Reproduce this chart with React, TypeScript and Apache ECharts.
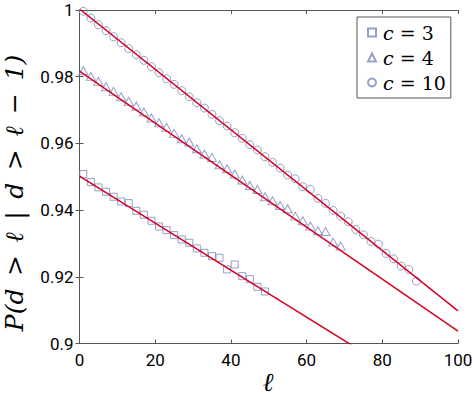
import React, { useEffect, useRef } from "react";
import * as echarts from "echarts";

// x positions (ℓ) for each series
const xC3 = [1, 3, 5, 7, 9, 11, 13, 15, 17, 19, 21, 23, 25, 27, 29, 31, 33, 35, 37, 39, 41, 43, 45, 47, 49];
const yC3 = [0.9508, 0.9484, 0.9468, 0.9455, 0.944, 0.9426, 0.9421, 0.9398, 0.9386, 0.9368, 0.9351, 0.934, 0.9325, 0.9312, 0.9302, 0.9285, 0.9272, 0.9262, 0.9257, 0.9222, 0.9237, 0.9202, 0.9193, 0.917, 0.9156];

const xC4 = [1, 3, 5, 7, 9, 11, 13, 15, 17, 19, 21, 23, 25, 27, 29, 31, 33, 35, 37, 39, 41, 43, 45, 47, 49, 51, 53, 55, 57, 59, 61, 63, 65, 67, 69];
const yC4 = [0.9818, 0.9801, 0.9786, 0.977, 0.9756, 0.974, 0.9726, 0.9712, 0.9694, 0.9676, 0.9662, 0.9648, 0.963, 0.9614, 0.9604, 0.9584, 0.9568, 0.9558, 0.9536, 0.9524, 0.9508, 0.949, 0.9474, 0.9462, 0.944, 0.9428, 0.9414, 0.9404, 0.9382, 0.9368, 0.9352, 0.9338, 0.9336, 0.9304, 0.9292];

const xC10 = [1, 3, 5, 7, 9, 11, 13, 15, 17, 19, 21, 23, 25, 27, 29, 31, 33, 35, 37, 39, 41, 43, 45, 47, 49, 51, 53, 55, 57, 59, 61, 63, 65, 67, 69, 71, 73, 75, 77, 79, 81, 83, 85, 87, 89];
const yC10 = [0.9996, 0.9976, 0.9956, 0.9938, 0.992, 0.9902, 0.9884, 0.9866, 0.9849, 0.983, 0.9812, 0.9794, 0.9777, 0.9758, 0.974, 0.9722, 0.9706, 0.9687, 0.9668, 0.9652, 0.9632, 0.9615, 0.9596, 0.958, 0.956, 0.9543, 0.9526, 0.9505, 0.9494, 0.947, 0.9462, 0.9435, 0.942, 0.9399, 0.9382, 0.9365, 0.9342, 0.9326, 0.9306, 0.9298, 0.927, 0.9254, 0.9232, 0.9222, 0.9187];

// fitted straight lines: value at ℓ=0 and at ℓ=100
const fitX = [0, 100];
const fitC3 = [0.9502, 0.8797];
const fitC4 = [0.9817, 0.9037];
const fitC10 = [1.0003, 0.9098];

const xTicks = [0, 20, 40, 60, 80, 100];
const yTicks = [0.9, 0.92, 0.94, 0.96, 0.98, 1];

const labels = ["c = 3", "c = 4", "c = 10"];
const xTitle = "ℓ";

const pair = (xs: number[], ys: number[]) => xs.map((x, i) => [x, ys[i]]);

export default function App() {
  const ref = useRef<HTMLDivElement>(null);
  useEffect(() => {
    if (!ref.current) return;
    const chart = echarts.init(ref.current, null, { renderer: "svg" });
    const markerColor = "#7b88c2";
    const lineColor = "#d7001f";
    const axisColor = "#555";
    const sans = "Roboto, sans-serif";
    const serif = "'DejaVu Serif', serif";
    const sp = "\u2002";
    const yTitle = "P(d" + sp + ">" + sp + "ℓ" + sp + "|" + sp + "d" + sp + ">" + sp + "ℓ" + sp + "−" + sp + "1)";
    const common = {
      min: 0,
      max: 100,
      interval: 20,
    };
    chart.setOption({
      animation: false,
      backgroundColor: "#fff",
      grid: { left: 79.5, right: 16, top: 10, bottom: 53.5, outerBoundsMode: "none", containLabel: false },
      graphic: [
        {
          type: "text",
          x: 14,
          y: 193,
          rotation: Math.PI / 2,
          style: {
            text: yTitle,
            fontFamily: serif,
            fontStyle: "italic",
            fontSize: 25,
            fill: "#000",
            align: "center",
            verticalAlign: "middle",
          },
        },
        {
          type: "text",
          x: 268,
          y: 382,
          style: {
            text: xTitle,
            fontFamily: serif,
            fontStyle: "italic",
            fontSize: 26,
            fill: "#000",
            align: "center",
            verticalAlign: "middle",
          },
        },
      ],
      legend: {
        data: labels,
        orient: "vertical",
        left: 357,
        top: 17,
        padding: [6, 5, 6, 10],
        itemGap: 6,
        itemWidth: 8,
        itemHeight: 8,
        borderColor: "#555",
        borderWidth: 1,
        backgroundColor: "#fff",
        formatter: (n: string) => {
          const parts = n.split(" = ");
          return "{i|" + parts[0] + "} {n|= " + parts[1] + "}";
        },
        textStyle: {
          fontFamily: serif,
          fontSize: 19,
          color: "#000",
          padding: [0, 0, 0, 2],
          rich: {
            i: { fontFamily: serif, fontStyle: "italic", fontSize: 19, color: "#000", lineHeight: 21 },
            n: { fontFamily: serif, fontSize: 19, color: "#000", lineHeight: 21 },
          },
        },
      },
      xAxis: [
        {
          type: "value",
          ...common,
          position: "bottom",
          axisLine: { lineStyle: { color: axisColor, width: 1 } },
          axisTick: { inside: true, length: 4, lineStyle: { color: axisColor } },
          axisLabel: {
            fontFamily: sans,
            fontSize: 17,
            color: "#000",
            margin: 8,
            formatter: (v: number) => (xTicks.includes(v) ? String(v) : ""),
          },
          splitLine: { show: false },
        },
        {
          type: "value",
          ...common,
          position: "top",
          axisLine: { lineStyle: { color: axisColor, width: 1 } },
          axisTick: { inside: true, length: 4, lineStyle: { color: axisColor } },
          axisLabel: { show: false },
          splitLine: { show: false },
        },
      ],
      yAxis: [
        {
          type: "value",
          min: 0.9,
          max: 1,
          interval: 0.02,
          position: "left",
          axisLine: { show: true, lineStyle: { color: axisColor, width: 1 } },
          axisTick: { show: true, inside: true, length: 4, lineStyle: { color: axisColor } },
          axisLabel: {
            fontFamily: sans,
            fontSize: 17,
            color: "#000",
            margin: 6,
            formatter: (v: number) => {
              const r = parseFloat(v.toFixed(2));
              return yTicks.includes(r) ? String(r) : "";
            },
          },
          splitLine: { show: false },
        },
        {
          type: "value",
          min: 0.9,
          max: 1,
          interval: 0.02,
          position: "right",
          axisLine: { show: true, lineStyle: { color: axisColor, width: 1 } },
          axisTick: { show: true, inside: true, length: 4, lineStyle: { color: axisColor } },
          axisLabel: { show: false },
          splitLine: { show: false },
        },
      ],
      series: [
        {
          type: "line",
          data: pair(fitX, fitC3),
          symbol: "none",
          lineStyle: { color: lineColor, width: 1.5 },
          clip: true,
          z: 3,
        },
        {
          type: "line",
          data: pair(fitX, fitC4),
          symbol: "none",
          lineStyle: { color: lineColor, width: 1.5 },
          clip: true,
          z: 3,
        },
        {
          type: "line",
          data: pair(fitX, fitC10),
          symbol: "none",
          lineStyle: { color: lineColor, width: 1.5 },
          clip: true,
          z: 3,
        },
        {
          name: labels[0],
          type: "scatter",
          data: pair(xC3, yC3),
          symbol: "rect",
          symbolSize: 7,
          itemStyle: { color: "transparent", borderColor: markerColor, borderWidth: 1 },
          z: 2,
        },
        {
          name: labels[1],
          type: "scatter",
          data: pair(xC4, yC4),
          symbol: "triangle",
          symbolSize: [9, 8],
          itemStyle: { color: "transparent", borderColor: markerColor, borderWidth: 1 },
          z: 2,
        },
        {
          name: labels[2],
          type: "scatter",
          data: pair(xC10, yC10),
          symbol: "circle",
          symbolSize: 8,
          itemStyle: { color: "transparent", borderColor: markerColor, borderWidth: 1 },
          z: 2,
        },
      ],
    });
    return () => chart.dispose();
  }, []);
  return <div ref={ref} style={{ width: 474, height: 397, position: "absolute", left: 0, top: 0 }} />;
}
